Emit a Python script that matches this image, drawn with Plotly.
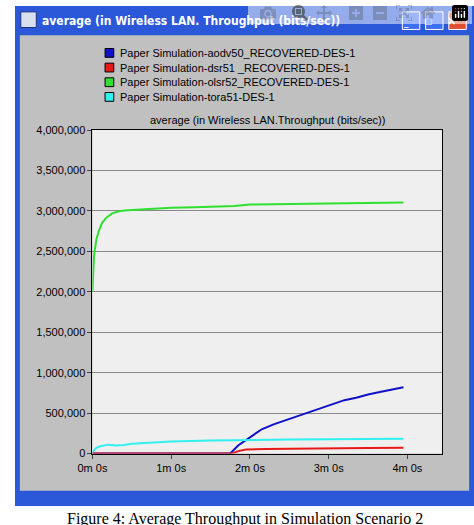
import plotly.graph_objects as go

# time in minutes, throughput in bits/sec
aodv_t = [0, 0.5, 1.0, 1.5, 1.75, 1.85, 1.95, 2.05, 2.15, 2.3, 2.45, 2.6, 2.75, 2.9, 3.05, 3.2, 3.35, 3.5, 3.65, 3.8, 3.95]
aodv_v = [0, 0, 0, 0, 0, 100000, 170000, 230000, 300000, 360000, 410000, 460000, 510000, 560000, 610000, 660000, 690000, 730000, 760000, 790000, 820000]
dsr_t = [0, 1.0, 1.78, 1.85, 1.95, 2.2, 2.5, 3.0, 3.5, 3.95]
dsr_v = [0, 0, 0, 30000, 50000, 55000, 60000, 65000, 68000, 70000]
olsr_t = [0, 0.02, 0.05, 0.08, 0.12, 0.18, 0.25, 0.35, 0.45, 0.6, 0.8, 1.0, 1.3, 1.6, 1.8, 2.0, 2.5, 3.0, 3.5, 3.95]
olsr_v = [2000000, 2450000, 2650000, 2750000, 2850000, 2920000, 2970000, 3000000, 3010000, 3020000, 3030000, 3040000, 3045000, 3050000, 3060000, 3080000, 3085000, 3090000, 3100000, 3105000]
tora_t = [0, 0.05, 0.1, 0.2, 0.3, 0.4, 0.5, 0.7, 1.0, 1.5, 2.0, 2.5, 3.0, 3.5, 3.95]
tora_v = [20000, 70000, 90000, 110000, 100000, 105000, 120000, 135000, 150000, 160000, 170000, 175000, 178000, 180000, 182000]

names = ['Paper Simulation-aodv50_RECOVERED-DES-1', 'Paper Simulation-dsr51 _RECOVERED-DES-1',
         'Paper Simulation-olsr52_RECOVERED-DES-1', 'Paper Simulation-tora51-DES-1']
colors = ['#1010c8', '#e81818', '#30e030', '#30f0f0']
series = [(aodv_t, aodv_v), (dsr_t, dsr_v), (olsr_t, olsr_v), (tora_t, tora_v)]
tick_vals = [0, 1, 2, 3, 4]
tick_text = ['0m 0s', '1m 0s', '2m 0s', '3m 0s', '4m 0s']

W, H = 474, 525
def px(x): return x / W
def py(y): return 1 - y / H

fig = go.Figure()
for (t, v), n, c in zip(series, names, colors):
    fig.add_trace(go.Scatter(x=t, y=v, mode='lines', name=n, line=dict(color=c, width=2), showlegend=False))

shapes = [
    dict(type='rect', xref='paper', yref='paper', x0=0, x1=1, y0=py(512), y1=1, fillcolor='#2a58d8', line_width=0, layer='below'),
    dict(type='rect', xref='paper', yref='paper', x0=px(5), x1=px(469), y0=py(496), y1=py(30), fillcolor='#c0c0c0', line_width=0, layer='below'),
    dict(type='rect', xref='paper', yref='paper', x0=px(80), x1=px(441), y0=py(458), y1=py(127), fillcolor='#efefef', line_width=0, layer='below'),
    dict(type='rect', xref='paper', yref='paper', x0=0, x1=1, y0=0, y1=py(512), fillcolor='white', line_width=0, layer='below'),
    dict(type='rect', xref='paper', yref='paper', x0=px(6), x1=px(22), y0=py(22), y1=py(6), fillcolor='#d8e0f0', line=dict(color='#203080', width=1)),
    dict(type='rect', xref='paper', yref='paper', x0=px(400), x1=px(418), y0=py(24), y1=py(6), fillcolor='#3c6ef0', line=dict(color='white', width=1)),
    dict(type='rect', xref='paper', yref='paper', x0=px(424), x1=px(442), y0=py(24), y1=py(6), fillcolor='#3c6ef0', line=dict(color='white', width=1)),
    dict(type='rect', xref='paper', yref='paper', x0=px(448), x1=px(466), y0=py(24), y1=py(6), fillcolor='#e05030', line=dict(color='white', width=1)),
]
anns = [
    dict(text='<b>average (in Wireless LAN. Throughput (bits/sec))</b>', x=px(26), y=py(15), xanchor='left', yanchor='middle',
         font=dict(family='DejaVu Sans Condensed', size=12, color='white')),
    dict(text='<b>✕</b>', x=px(457), y=py(15), yanchor='middle', font=dict(size=11, color='white')),
    dict(text='<b>□</b>', x=px(433), y=py(15), yanchor='middle', font=dict(size=11, color='white')),
    dict(text='<b>_</b>', x=px(409), y=py(16), yanchor='middle', font=dict(size=11, color='white')),
    dict(text='average (in Wireless LAN.Throughput (bits/sec))', x=(px(80) + px(441)) / 2, y=py(117), yanchor='middle',
         font=dict(family='Liberation Sans', size=11, color='black')),
    dict(text='Figure 4: Average Throughput in Simulation Scenario 2', x=0.5, y=py(514), yanchor='top',
         font=dict(family='Liberation Serif', size=16, color='black')),
]
for i, (n, c) in enumerate(zip(names, colors)):
    yy = 48 + i * 15
    shapes.append(dict(type='rect', xref='paper', yref='paper', x0=px(93), x1=px(102), y0=py(yy + 4.5), y1=py(yy - 4.5),
                       fillcolor=c, line=dict(color='black', width=1)))
    anns.append(dict(text=n, x=px(106), y=py(yy), xanchor='left', yanchor='middle',
                     font=dict(family='Liberation Sans', size=11, color='black')))
for a in anns:
    a.update(xref='paper', yref='paper', showarrow=False)

fig.update_layout(
    width=W, height=H, margin=dict(l=0, r=0, t=0, b=0),
    paper_bgcolor='white', plot_bgcolor='#efefef',
    shapes=shapes, annotations=anns,
    xaxis=dict(domain=[px(80), px(441)], range=[0, 4.44], tickvals=tick_vals, ticktext=tick_text,
               showgrid=False, zeroline=False, showline=True, linecolor='black', mirror=True,
               ticks='outside', ticklen=4, tickfont=dict(family='Liberation Sans', size=11, color='black')),
    yaxis=dict(domain=[py(458), py(127)], range=[0, 4000000], dtick=500000, tickformat=',d',
               gridcolor='#8a8a8a', zeroline=False, showline=True, linecolor='black', mirror=True,
               ticks='outside', ticklen=4, tickfont=dict(family='Liberation Sans', size=11, color='black')),
)
fig.write_html("out.html", post_script="document.body.style.margin='0';document.body.style.overflow='hidden';")
